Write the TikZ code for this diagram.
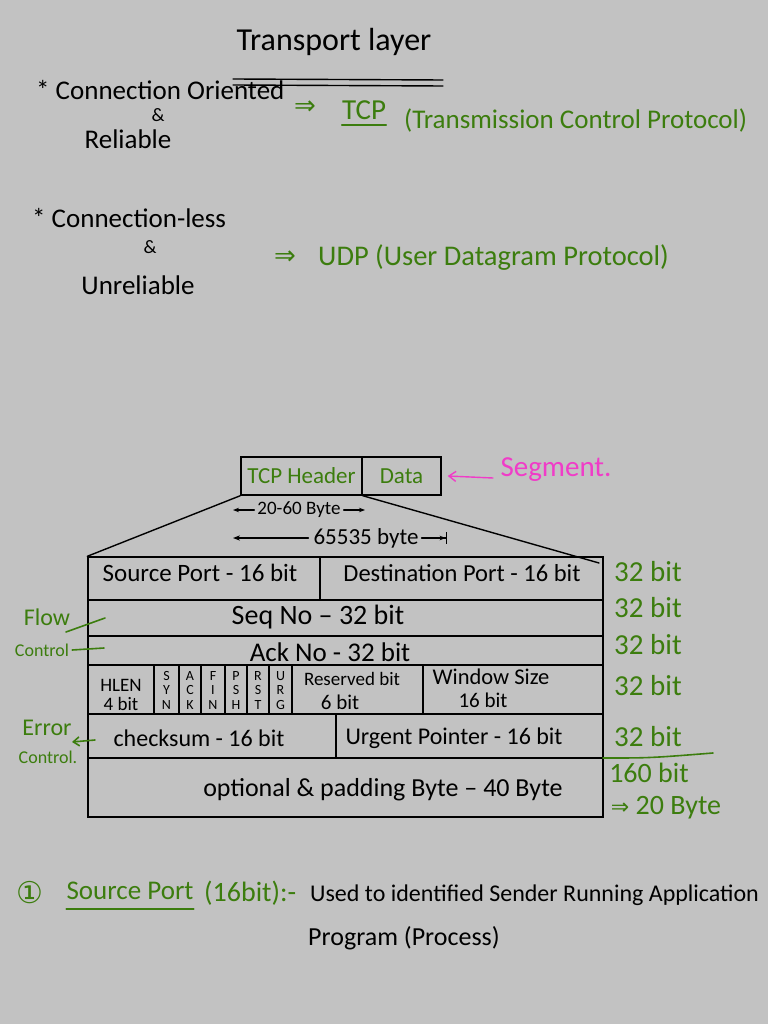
\documentclass[tikz,border=0pt]{standalone}
\usepackage{fontspec}
\setmainfont{Carlito}
\newfontfamily\symfont{DejaVu Sans}
\usetikzlibrary{arrows.meta}
\definecolor{bg}{HTML}{C2C2C2}
\definecolor{grn}{HTML}{3C7D0E}
\definecolor{mag}{HTML}{F03CC8}
\newcommand{\fs}[1]{\fontsize{#1}{#1}\selectfont}
\begin{document}
\begin{tikzpicture}[x=1pt,y=-1pt,
  every node/.style={inner sep=0pt},
  big/.style={font=\fs{27}},
  med/.style={font=\fs{23}},
  sml/.style={font=\fs{19}},
  tiny/.style={font=\fs{14}},
  gtxt/.style={text=grn},
  pen/.style={line width=1.4pt, line cap=round},
  gpen/.style={line width=1.6pt, line cap=round, grn},
  cellbox/.style={draw, pen, minimum height=38pt}]
\fill[bg] (0,0) rectangle (768,1024);
\useasboundingbox (0,0) rectangle (768,1024);

% title
\node[font=\fs{32}] (title) at (334,42) {Transport layer};
\coordinate (ul1a) at (233,79); \coordinate (ul1b) at (443,80);
\coordinate (ul2a) at (233,85); \coordinate (ul2b) at (443,86);
\draw[pen] (ul1a) -- (ul1b);
\draw[pen] (ul2a) -- (ul2b);

% TCP
\node[big, anchor=west] (co) at (36,90) {* Connection Oriented};
\node[sml] (amp1) at (158,115) {\&};
\node[big] (rel) at (128,139) {Reliable};
\node[gtxt, font=\symfont\fs{26}] (imp1) at (305,108) {⇒};
\node[font=\fs{29}, gtxt] (tcp) at (364,110) {TCP};
\draw[gpen] ([yshift=-5]tcp.south west) -- ([yshift=-5]tcp.south east);
\node[big, gtxt, anchor=west] (tcpfull) at (404,120) {(Transmission Control Protocol)};

% UDP
\node[big, anchor=west] (cl) at (32,218) {* Connection-less};
\node[sml] (amp2) at (150,247) {\&};
\node[big] (unrel) at (138,285) {Unreliable};
\node[gtxt, font=\symfont\fs{26}] (imp2) at (285,258) {⇒};
\node[font=\fs{28.5}, gtxt, anchor=west] (udp) at (318,258) {UDP (User Datagram Protocol)};

% segment box
\node[cellbox, minimum width=121pt, gtxt, med] (hdr) at (301.5,476) {TCP Header};
\node[cellbox, minimum width=79pt, gtxt, med] (data) at (401.5,476) {Data};
\coordinate (segtail) at (493,478);
\draw[pen, mag, -{Straight Barb[length=7pt,width=10pt]}] (segtail) -- ([xshift=6]data.east);
\node[font=\fs{29}, text=mag] (seg) at (556,470) {Segment.};

% sizes
\node[sml] (sz1) at (299,510) {20-60 Byte};
\coordinate (sz1l) at (233,510); \coordinate (sz1r) at (365,510);
\draw[pen, -{Stealth[length=6pt]}] ([xshift=-3]sz1.west) -- (sz1l);
\draw[pen, -{Stealth[length=6pt]}] ([xshift=3]sz1.east) -- (sz1r);
\node[med] (sz2) at (366,538) {65535 byte};
\coordinate (sz2l) at (233,538); \coordinate (sz2r) at (447,538);
\draw[pen, -{Stealth[length=7pt]}] ([xshift=-5]sz2.west) -- (sz2l);
\draw[pen, -{Stealth[length=6pt] Bar[width=12pt]}] ([xshift=3]sz2.east) -- (sz2r);

% main table
\node[draw, pen, minimum width=515pt, minimum height=260pt] (tbl) at (345.5,687) {};
\coordinate (fanr) at (599,563);
\draw[pen] (hdr.south west) -- (tbl.north west);
\draw[pen] (hdr.south east) -- (fanr);
\foreach \yy in {600,636,665,714,758} \draw[pen] (88,\yy) -- (603,\yy);
\draw[pen] (320,557) -- (320,600);
\foreach \xx in {154,179,201,225,247,269,292,423} \draw[pen] (\xx,665) -- (\xx,714);
\draw[pen] (336,714) -- (336,758);

\node[font=\fs{25}] (sp) at (200,573) {Source Port - 16 bit};
\node[font=\fs{24.5}] (dp) at (462,573) {Destination Port - 16 bit};
\node[font=\fs{28}] (seqn) at (318,617) {Seq No -- 32 bit};
\node[font=\fs{27}] (ackn) at (330,652) {Ack No - 32 bit};
\node[sml] (hlen) at (121,685) {HLEN};
\node[sml] (hlenb) at (121,704) {4 bit};
\foreach \cx/\la/\lb/\lc [count=\i] in {166.5/S/Y/N,190/A/C/K,213/F/I/N,236/P/S/H,258/R/S/T,280.5/U/R/G}{
  \node[tiny] (f\i a) at (\cx,676) {\la};
  \node[tiny] (f\i b) at (\cx,690) {\lb};
  \node[tiny] (f\i c) at (\cx,705) {\lc};
}
\node[sml] (res) at (352,679) {Reserved bit};
\node[font=\fs{21}] (resb) at (340,702) {6 bit};
\node[font=\fs{22.5}] (win) at (491,677) {Window Size};
\node[font=\fs{21}] (winb) at (483,700) {16 bit};
\node[font=\fs{24}] (cks) at (199,738) {checksum - 16 bit};
\node[font=\fs{24}] (urg) at (454,738) {Urgent Pointer - 16 bit};
\node[font=\fs{26}] (opt) at (383,790) {optional \& padding Byte -- 40 Byte};

% right labels
\foreach \yy [count=\i] in {572,608,645,686,737}
  \node[font=\fs{29}, gtxt] (r\i) at (648,\yy) {32 bit};
\node[font=\fs{28}, gtxt] (r160) at (649,773) {160 bit};
\node[font=\fs{28}, gtxt] (r20) at (666,808) {{\symfont\fs{22}⇒} 20 Byte};
\coordinate (gl1) at (603,758); \coordinate (gl2) at (713,753);
\draw[gpen] (gl1) .. controls (650,758) .. (gl2);

% left labels
\node[font=\fs{24}, gtxt] (flow) at (47,617) {Flow};
\node[font=\fs{18}, gtxt] (fctl) at (42,650) {Control};
\coordinate (fl1) at (66,632); \coordinate (fl2) at (105,618);
\draw[gpen] (fl1) -- (fl2);
\coordinate (fc1) at (104,648);
\draw[gpen] ([xshift=3]fctl.east) -- (fc1);
\node[font=\fs{24}, gtxt] (err) at (47,728) {Error};
\node[font=\fs{18}, gtxt] (ectl) at (48,757) {Control.};
\coordinate (ea1) at (95,740); \coordinate (ea2) at (72,742);
\draw[gpen, -{Straight Barb[length=6pt,width=9pt]}] (ea1) -- (ea2);

% bottom note
\node[gtxt, font=\symfont\fs{30}] (one) at (30,893) {①};
\node[big, gtxt] (spn) at (130,891) {Source Port};
\draw[gpen, line width=2pt] ([yshift=-9]spn.south west) -- ([yshift=-9]spn.south east);
\node[font=\fs{28}, gtxt, anchor=west] (spb) at (204,893) {(16bit):-};
\node[font=\fs{24}, anchor=west] (used) at (310,895) {Used to identified Sender Running Application};
\node[font=\fs{26}, anchor=west] (prog) at (308,938) {Program (Process)};
\end{tikzpicture}
\end{document}
